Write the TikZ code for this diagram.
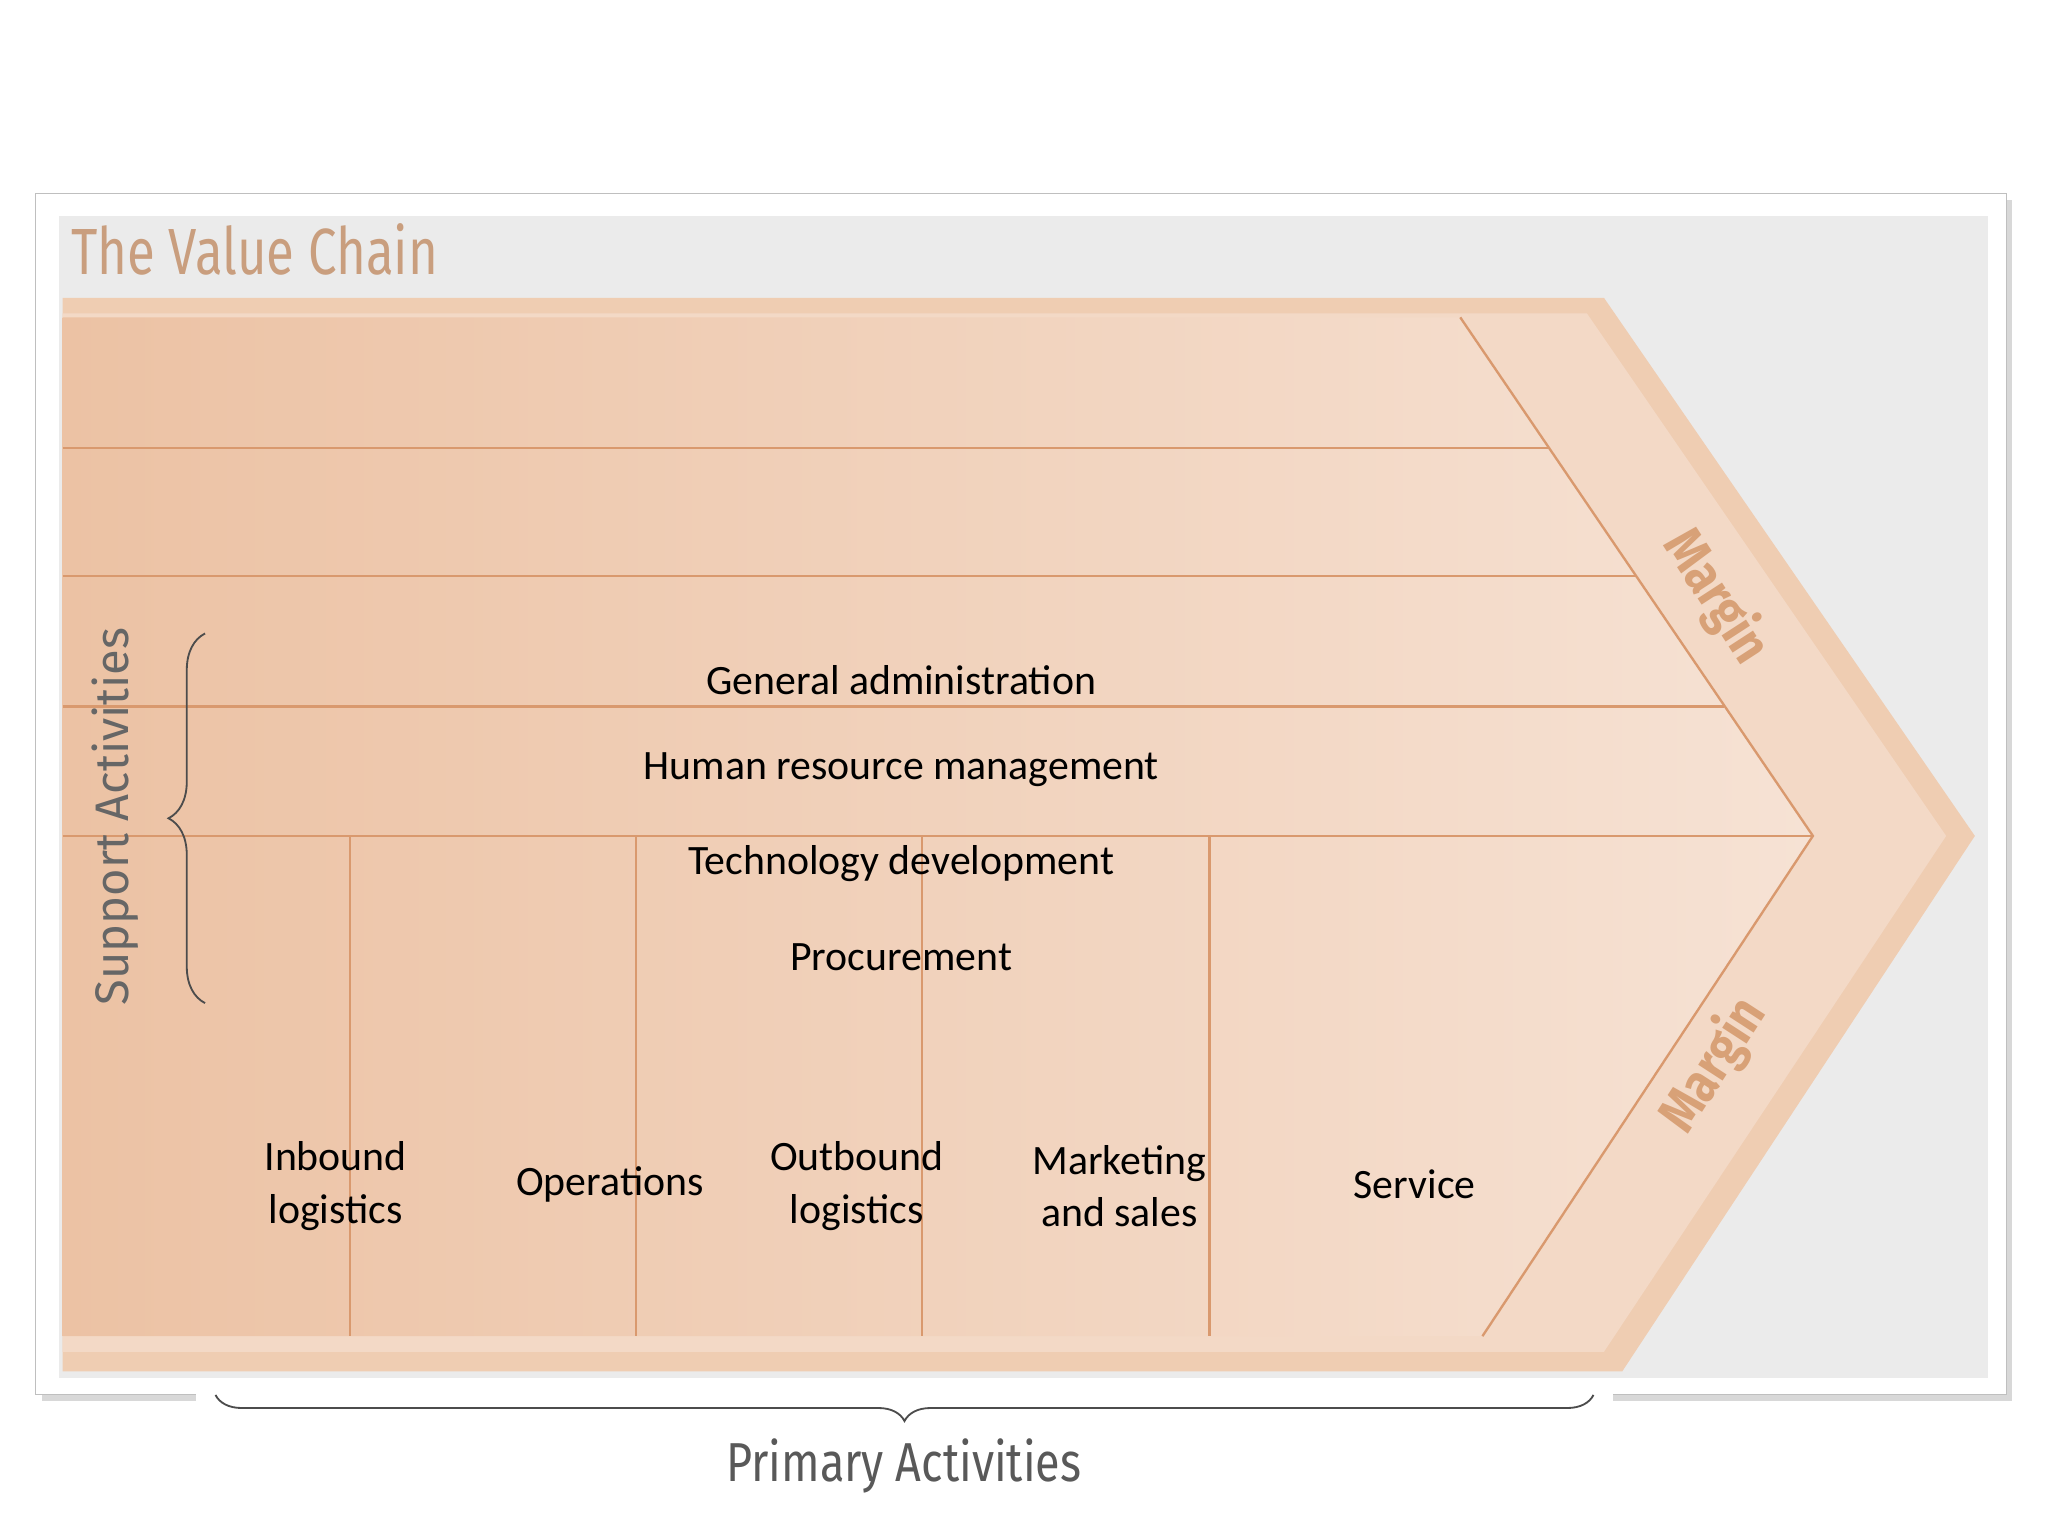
\documentclass[tikz,border=0pt]{standalone}
\usepackage{fontspec}
\setmainfont{Carlito}
\newfontfamily\hdfont{Fira Sans}
\usetikzlibrary{decorations.pathreplacing,shadows}
\definecolor{lnc}{HTML}{D9996E}
\definecolor{dk}{HTML}{ECC2A4}
\definecolor{lt}{HTML}{F6E2D4}
\definecolor{mg}{HTML}{F3D9C6}
\definecolor{mgo}{HTML}{EFCDB2}
\definecolor{ttl}{HTML}{C99E7E}
\definecolor{mtx}{HTML}{D8A177}
\tikzset{
  lab/.style={font=\fontsize{16}{20}\selectfont, align=center, text=black},
  ln/.style={draw=lnc, line width=0.9pt},
  br/.style={decorate, draw=black!70, line width=0.7pt}
}
\begin{document}
\begin{tikzpicture}[x=0.5pt,y=-0.5pt]
\useasboundingbox (0,0) rectangle (1568,1176);
\fill[white] (0,0) rectangle (1568,1176);
% frame
\filldraw[draw=black!25, fill=white, drop shadow={opacity=0.3}] (27,148) rectangle (1536,1068);
\fill[black!8] (45,165) rectangle (1522,1055);
\fill[white] (150,1058) rectangle (1235,1176);
% title
\node[text=ttl, font=\hdfont\fontsize{25}{28}\selectfont] (title) at (195,191) {\scalebox{0.78}[1]{The Value Chain}};
% outer arrow
\fill[mgo] (48,228) -- (1228,228) -- (1512,640) -- (1242,1050) -- (48,1050) -- cycle;
\fill[mg] (48,240) -- (1215,240) -- (1490,640) -- (1228,1035) -- (48,1035) -- cycle;
% inner arrow
\shade[left color=dk, right color=lt] (48,243) -- (1118,243) -- (1388,640) -- (1135,1023) -- (48,1023) -- cycle;
\draw[ln] (1118,243) -- (1388,640) -- (1135,1023);
\draw[ln] (48,343) -- (1186,343);
\draw[ln] (48,441) -- (1252,441);
\draw[ln] (48,541) -- (1320,541);
\draw[ln] (48,640) -- (1388,640);
\foreach \x in {268,487,706,926} \draw[ln] (\x,640) -- (\x,1023);
% support labels
\node[lab] (ga) at (690,521) {General administration};
\node[lab] (hr) at (690,589) {Human resource management};
\node[lab] (td) at (690,661) {Technology development};
\node[lab] (pr) at (690,733) {Procurement};
% primary
\node[lab] (il) at (257,908) {Inbound\\logistics};
\node[lab] (op) at (467,907) {Operations};
\node[lab] (ol) at (656,908) {Outbound\\logistics};
\node[lab] (ms) at (857,908) {Marketing\\and sales};
\node[lab] (sv) at (1083,907) {Service};
% margins
\node[text=mtx, font=\hdfont\bfseries\fontsize{21}{24}\selectfont, rotate=-57] (m1) at (1314,457) {\scalebox{0.85}[1]{Margin}};
\node[text=mtx, font=\hdfont\bfseries\fontsize{21}{24}\selectfont, rotate=57] (m2) at (1312,816) {\scalebox{0.85}[1]{Margin}};
% support activities
\node[text=black!60, font=\hdfont\fontsize{18}{22}\selectfont, rotate=90] (sa) at (88,625) {Support Activities};
\coordinate (b1) at (157,485);
\coordinate (b2) at (157,768);
\draw[br, decoration={brace, amplitude=14pt}] (b2) -- (b1);
% primary activities
\coordinate (p1) at (165,1068);
\coordinate (p2) at (1220,1068);
\draw[br, decoration={brace, mirror, amplitude=10pt}] (p1) -- (p2);
\node[text=black!65, font=\hdfont\fontsize{21}{24}\selectfont] (pa) at (692,1122) {\scalebox{0.82}[1]{Primary Activities}};
\end{tikzpicture}
\end{document}
